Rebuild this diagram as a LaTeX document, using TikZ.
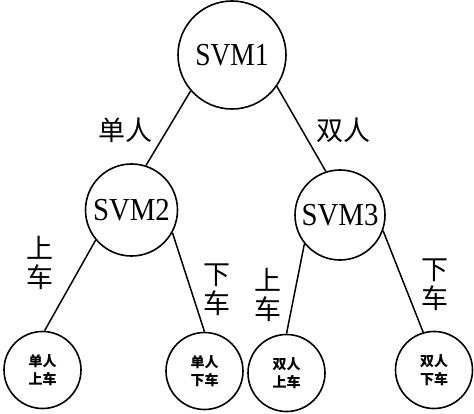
\documentclass[tikz,border=0pt]{standalone}
\usepackage{fontspec}
\setmainfont{Liberation Serif}
\newfontfamily\cjk{Noto Sans CJK SC}
\begin{document}
\begin{tikzpicture}[x=1pt,y=-1pt,
  svmnode/.style={draw=black,line width=1.6pt,circle,inner sep=0pt,
    font=\fontsize{32}{32}\selectfont},
  leafnode/.style={draw=black,line width=1.6pt,circle,inner sep=0pt,
    minimum size=77pt,align=center,font=\cjk\bfseries\fontsize{14}{18}\selectfont},
  biglabel/.style={inner sep=0pt,align=center,font=\cjk\fontsize{27}{29}\selectfont},
  edgeline/.style={line width=1.5pt}]
\useasboundingbox (0,0) rectangle (474,414);
\node[svmnode,minimum size=108pt] (s1) at (232,55) {\scalebox{0.86}[1]{SVM1}};
\node[svmnode,minimum size=92pt] (s2) at (131.5,210) {\scalebox{0.9}[1]{SVM2}};
\node[svmnode,minimum size=90pt] (s3) at (340,215) {\scalebox{0.9}[1]{SVM3}};
\node[leafnode] (l1) at (42.5,370) {单人\\上车};
\node[leafnode] (l2) at (204.5,371) {单人\\下车};
\node[leafnode] (l3) at (286.5,373) {双人\\上车};
\node[leafnode] (l4) at (434,370) {双人\\下车};
\draw[edgeline] (s1.221) -- (s2.72);
\draw[edgeline] (s1.-35) -- (s3.108);
\draw[edgeline] (s2.220) -- (l1.87);
\draw[edgeline] (s2.-29) -- (l2.90);
\draw[edgeline] (s3.219) -- (l3.90);
\draw[edgeline] (s3.-20) -- (l4.106);
\node[biglabel] (a1) at (125,130) {单人};
\node[biglabel] (a2) at (343,130) {双人};
\node[biglabel] (b1) at (40,263) {上\\车};
\node[biglabel] (b2) at (217,290) {下\\车};
\node[biglabel] (b3) at (268,295) {上\\车};
\node[biglabel] (b4) at (435,285) {下\\车};
\end{tikzpicture}
\end{document}
